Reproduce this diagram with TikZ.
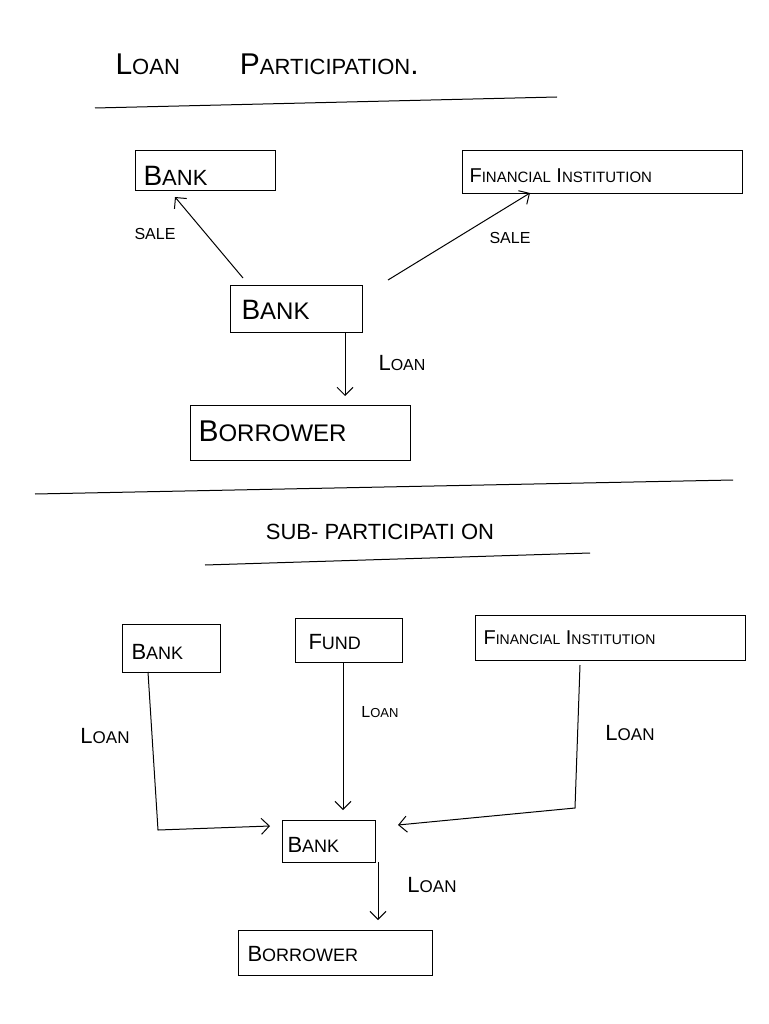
\documentclass[tikz,border=0pt]{standalone}
\usetikzlibrary{arrows.meta}
\usepackage{fontspec}
\setmainfont{Liberation Sans}
\newcommand\fs[1]{\fontsize{#1}{#1}\selectfont}
\begin{document}
\begin{tikzpicture}[x=1pt,y=-1pt,
  bx/.style={draw,line width=1pt,inner sep=0pt,anchor=north west},
  con/.style={draw,line width=1pt,-{Straight Barb[length=8pt]}}]
\useasboundingbox (0,0) rectangle (768,1024);
\fill[white] (0,0) rectangle (768,1024);
% top
\node[anchor=west] (t1) at (112,64) {\fs{30}L{\fs{22}OAN}\qquad P{\fs{22}ARTICIPATION}.};
\coordinate (u1a) at (95,108); \coordinate (u1b) at (557,97);
\draw[line width=1pt] (u1a) -- (u1b);
\node[bx,minimum width=140pt,minimum height=40pt] (bank1) at (135,150) {};
\node[anchor=west] (bank1t) at (140,176) {\fs{28}B{\fs{22}ANK}};
\node[bx,minimum width=280pt,minimum height=43pt] (fi1) at (462,150) {};
\node[anchor=west] (fi1t) at (466,176) {\fs{20}F{\fs{15}INANCIAL} I{\fs{15}NSTITUTION}};
\node[bx,minimum width=132pt,minimum height=47pt] (bank2) at (230,285) {};
\node[anchor=west] (bank2t) at (238,310) {\fs{28}B{\fs{24}ANK}};
\node[bx,minimum width=220pt,minimum height=55pt] (borr1) at (190,405) {};
\node[anchor=west] (borr1t) at (195,431) {\fs{30}B{\fs{24}ORROWER}};
\coordinate (s1) at (243,278); \coordinate (e1) at (175,197);
\draw[con] (s1) -- (e1);
\node (sale1) at (155,234) {\fs{16}SALE};
\coordinate (s2) at (388,280); \coordinate (e2) at (530,193);
\draw[con] (s2) -- (e2);
\node (sale2) at (510,238) {\fs{16}SALE};
\coordinate (s3) at (345,333); \coordinate (e3) at (345,396);
\draw[con] (s3) -- (e3);
\node (loan1) at (402,363) {\fs{22}L{\fs{16}OAN}};
\coordinate (sepa) at (35,494); \coordinate (sepb) at (733,480);
\draw[line width=1pt] (sepa) -- (sepb);
% bottom
\node (t2) at (380,532) {\fs{22}SUB- PARTICIPATI ON};
\coordinate (u2a) at (205,565); \coordinate (u2b) at (590,553);
\draw[line width=1pt] (u2a) -- (u2b);
\node[bx,minimum width=98pt,minimum height=48pt] (bank3) at (122,624) {};
\node[anchor=west] (bank3t) at (128,652) {\fs{22}B{\fs{18}ANK}};
\node[bx,minimum width=107pt,minimum height=44pt] (fund) at (295,618) {};
\node[anchor=west] (fundt) at (305,642) {\fs{22}F{\fs{18}UND}};
\node[bx,minimum width=270pt,minimum height=45pt] (fi2) at (475,615) {};
\node[anchor=west] (fi2t) at (480,638) {\fs{20}F{\fs{14}INANCIAL} I{\fs{14}NSTITUTION}};
\node[bx,minimum width=93pt,minimum height=42pt] (bank4) at (282,820) {};
\node[anchor=west] (bank4t) at (284,845) {\fs{22}B{\fs{18}ANK}};
\node[bx,minimum width=194pt,minimum height=45pt] (borr2) at (238,930) {};
\node[anchor=west] (borr2t) at (244,954) {\fs{22}B{\fs{18}ORROWER}};
\coordinate (a1) at (148,672); \coordinate (a2) at (158,830); \coordinate (a3) at (270,826);
\draw[con] (a1) -- (a2) -- (a3);
\node (l2) at (105,736) {\fs{22}L{\fs{17}OAN}};
\coordinate (b1) at (343,662); \coordinate (b2) at (343,810);
\draw[con] (b1) -- (b2);
\node (l3) at (380,712) {\fs{16}L{\fs{13}OAN}};
\coordinate (c1) at (580,665); \coordinate (c2) at (575,808); \coordinate (c3) at (398,825);
\draw[con] (c1) -- (c2) -- (c3);
\node (l4) at (630,733) {\fs{22}L{\fs{17}OAN}};
\coordinate (d1) at (378,862); \coordinate (d2) at (378,920);
\draw[con] (d1) -- (d2);
\node (l5) at (432,885) {\fs{22}L{\fs{17}OAN}};
\end{tikzpicture}
\end{document}
